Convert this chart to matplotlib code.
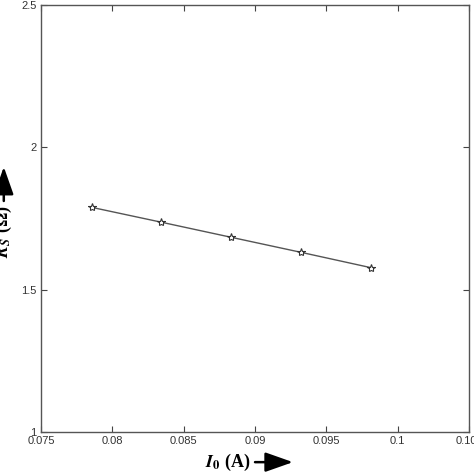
import matplotlib
matplotlib.use('Agg')
import matplotlib.pyplot as plt

plt.rcParams['mathtext.fontset'] = 'stix'
plt.rcParams['font.family'] = ['Liberation Sans', 'DejaVu Sans']

i0 = [0.07856, 0.08342, 0.08832, 0.09323, 0.09814]
rs = [1.789, 1.737, 1.684, 1.631, 1.577]
xticks = [0.075, 0.08, 0.085, 0.09, 0.095, 0.1, 0.105]
xticklabels = ['0.075', '0.08', '0.085', '0.09', '0.095', '0.1', '0.105']
yticks = [1, 1.5, 2, 2.5]
yticklabels = ['1', '1.5', '2', '2.5']

fig = plt.figure(figsize=(4.74, 4.74), dpi=100)
ax = fig.add_axes([0.0865, 0.0886, 0.903, 0.901])

ax.plot(i0, rs, color='#555555', lw=1.0, marker='*', ms=6,
        mfc='white', mec='#333333', mew=0.8)

ax.set_xlim(0.075, 0.105)
ax.set_ylim(1, 2.5)
ax.set_xticks(xticks)
ax.set_xticklabels(xticklabels)
ax.set_yticks(yticks)
ax.set_yticklabels(yticklabels)
ax.tick_params(direction='in', length=4, width=0.8, color='#444444',
               labelsize=8, labelcolor='#333333', top=True, right=True, pad=3)
for s in ax.spines.values():
    s.set_color('#555555')
    s.set_linewidth(1.0)

# axis labels with arrows
fig.text(0.528, 0.025, r'$\boldsymbol{I}_{\mathbf{0}}$ (A)', ha='right', va='center',
         fontsize=13, fontweight='bold', family='Liberation Serif')
ax.annotate('', xy=(0.618, 0.025), xytext=(0.538, 0.025), xycoords='figure fraction',
            arrowprops=dict(arrowstyle='-|>,head_length=1.7,head_width=0.6',
                            color='black', lw=1.8, shrinkA=0, shrinkB=0))

fig.text(0.008, 0.568, r'$\boldsymbol{R}_{\boldsymbol{S}}$ (Ω)', rotation=90,
         ha='center', va='top', fontsize=13, fontweight='bold',
         family='Liberation Serif')
ax.annotate('', xy=(0.008, 0.648), xytext=(0.008, 0.576), xycoords='figure fraction',
            arrowprops=dict(arrowstyle='-|>,head_length=1.7,head_width=0.6',
                            color='black', lw=1.8, shrinkA=0, shrinkB=0))

fig.savefig('out.png', dpi=100)
